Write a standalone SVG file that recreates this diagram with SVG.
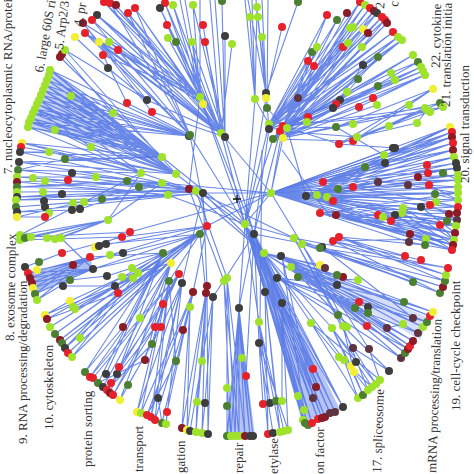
<svg xmlns="http://www.w3.org/2000/svg" width="474" height="474" viewBox="0 0 474 474">
<style>
.e{fill:none;stroke:#5a7be6;stroke-width:1.1;stroke-opacity:0.9}
.band{fill:#5a7be6;fill-opacity:0.45;stroke:none}
.a{fill:#9fe22c}.b{fill:#4d7f33}.c{fill:#e5222b}.d{fill:#8b1b25}.k{fill:#3d3d3d}.f{fill:#f1ef33}.g{fill:#5e3441}
text{font-family:"Liberation Serif","Times New Roman",serif;font-size:13px;fill:#333}
</style>
<rect width="474" height="474" fill="#fff"/>
<g id="connectors">
<polygon class="band" points="239,308 226,436 255,436"/>
<polygon class="band" points="247,226 256,234 340,410 302,422"/>
<polygon class="band" points="50,70 28,127 118,150 108,118" style="fill-opacity:0.35"/>
<polygon class="band" points="28,273 35,294 93,269 90,257" style="fill-opacity:0.5"/>
<polygon class="band" points="281,256 291,267 420,340 430,318" style="fill-opacity:0.25"/>
<path class="e" d="M110 3L200 97M104 2L200 97M116 5L221 133M128 13L200 97M128 13L190 135M135 8L221 133M135 8L203 104M97 15L221 133M97 15L200 97M92 20L190 135M83 23L152 112M85 33L190 135M85 33L200 97M75 37L108 68M99 42L200 97M99 42L221 133M109 42L221 133M103 55L127 103M118 50L190 135M118 50L225 137M108 68L147 100M127 103L190 135M147 100L221 133M152 112L225 137M83 23L147 100M110 3L190 135M104 2L225 137M116 5L203 104M128 13L225 137M97 15L203 104M92 20L221 133M83 23L200 97M85 33L225 137M99 42L190 135M109 42L203 104M103 55L200 97M118 50L203 104M135 8L190 135"/>
<path class="e" d="M60 57L162 157M62 54L113 113M65 50L176 174M65 50L147 100"/>
<path class="e" d="M50 70L162 157M50 70L113 113M49 75L176 174M47 80L162 157M47 80L189 136M45 85L176 174M45 85L162 157M43 90L162 157M43 90L113 113M41 95L176 174M41 95L189 136M39 100L162 157M39 100L141 173M37 104L176 174M37 104L162 157M35 109L162 157M35 109L91 147M33 113L176 174M33 113L189 136M31 118L162 157M31 118L141 173M29 122L176 174M29 122L162 157M28 127L162 157M28 127L141 173M71 96L162 157M55 130L162 157M113 113L189 136M91 147L176 174M50 70L176 174M43 90L176 174M35 109L176 174M49 75L162 157M50 70L150 150M49 75L130 140M47 80L150 150M45 85L130 140M43 90L150 150M41 95L130 140M39 100L150 150M37 104L130 140M35 109L150 150M33 113L130 140M31 118L150 150M29 122L130 140M28 127L150 150M50 70L189 136M45 85L189 136M39 100L189 136M35 109L189 136M29 122L189 136"/>
<path class="e" d="M22 143L162 157M22 143L141 173M21 147L176 174M20 152L162 157M20 152L49 152M19 162L162 157M19 162L189 189M18 170L141 173M18 170L65 159M17 177L189 189M17 177L96 177M17 182L168 195M17 182L68 180M17 187L203 193M17 187L127 181M17 192L196 191M17 192L43 192M17 197L168 195M17 197L62 194M16 200L189 189M16 200L102 199M16 207L168 195M16 207L84 202M17 212L203 193M17 212L72 210M17 217L162 183M17 217L45 217M49 152L141 173M65 159L162 157M72 173L161 184M96 177L162 183M127 181L203 193M139 187L189 189M102 199L168 195M73 203L196 191M80 209L162 183M141 173L189 189M33 178L139 187M45 181L168 195M22 143L176 174M20 152L189 189M19 162L176 174M18 170L196 191M17 187L162 183M17 197L189 189M16 207L203 193"/>
<path class="e" d="M20 235L108 220M20 240L108 220M25 238L108 220M31 237L108 220M47 238L108 220M55 239L108 220M61 238L108 220M20 240L122 237M31 237L130 232M108 220L141 173M108 220L162 183M61 238L93 269M20 235L141 173M22 238L108 220M28 238L108 220"/>
<path class="e" d="M25 267L62 253M28 273L93 269M28 273L90 257M30 278L93 269M30 278L90 257M32 283L93 269M32 283L90 257M33 288L93 269M33 288L90 257M35 294L93 269M35 294L73 265M37 300L70 280M37 300L90 257M39 262L62 253M37 270L123 253M62 253L122 237M73 265L110 255M90 257L163 253M93 269L163 253M93 269L200 234M70 280L107 276M63 286L115 286M95 247L130 232M99 246L207 226M106 244L200 234M110 255L207 226M123 253L200 234M122 237L207 226M130 232L271 193M107 276L132 268M122 277L171 263M132 268L163 253M138 273L200 234"/>
<path class="e" d="M45 315L70 301M45 315L115 286M47 319L118 293M50 327L138 273M50 327L200 234M55 334L133 278M60 340L200 234M60 340L207 226M62 343L200 234M65 348L207 226M65 348L118 293M68 353L200 234M72 357L207 226M72 357L138 273M70 301L122 277M73 307L133 278M75 309L138 273M80 338L118 293M115 286L163 253M118 293L171 263M47 319L200 234M55 334L207 226"/>
<path class="e" d="M85 372L163 253M90 377L171 263M93 378L179 274M98 383L163 253M103 387L171 263M107 390L179 274M110 393L163 253M113 395L155 327M120 400L171 263M85 372L123 327M90 377L140 318M98 383L145 360M107 390L152 344M113 395L179 274M120 400L161 327M106 374L163 253M117 374L171 263M119 367L163 304M111 383L155 327M128 385L152 344M123 327L163 253M140 318L179 274M155 327L179 274M161 327L182 283M145 360L171 263M152 344L163 304"/>
<path class="e" d="M137 412L182 283M141 413L169 281M147 415L193 292M151 417L182 283M155 420L169 281M162 423L193 292M166 424L182 283M137 412L163 304M147 415L176 361M155 420L183 330M162 423L158 398M166 424L167 412M158 398L182 283M167 412L193 292M176 361L169 281M183 330L193 292M163 304L179 274M141 413L193 292M151 417L169 281"/>
<path class="e" d="M182 428L207 286M187 430L206 293M190 431L213 297M196 432L207 286M202 433L206 293M208 434L213 297M182 428L190 307M190 431L202 361M196 432L197 402M202 433L205 403M208 434L207 286M187 430L190 307M197 402L207 286M205 403L213 297M202 361L206 293M190 307L207 226M207 286L203 193M206 293L200 234M213 297L254 234M193 292L207 226M182 283L203 193M169 281L200 234"/>
<path class="e" d="M227 436L239 308M231 436L239 308M235 436L239 308M239 436L239 308M245 436L239 308M250 436L239 308M253 436L239 308M227 436L227 278M231 436L224 281M235 436L227 278M239 436L224 281M245 436L227 278M250 436L242 358M253 436L246 376M227 436L227 406M231 436L227 388M239 308L245 224M239 308L254 234M227 278L196 191M224 281L189 189M242 358L239 308M227 388L227 278M246 376L254 234"/>
<path class="e" d="M268 434L259 322M273 433L259 343M280 432L265 292M284 431L259 322M288 430L282 303M263 404L259 343M270 403L259 322M276 401L265 292M282 401L282 303M268 434L265 292M280 432L259 322M288 430L259 343M259 322L245 224M259 343L254 234M265 292L245 224M282 303L254 234"/>
<path class="e" d="M303 420L245 224M305 423L254 234M308 425L245 224M312 423L254 234M318 419L245 224M322 418L254 234M325 417L245 224M330 413L254 234M335 412L245 224M343 407L254 234M303 420L254 234M308 425L254 234M318 419L254 234M325 417L254 234M335 412L254 234M305 423L245 224M312 423L245 224M322 418L245 224M330 413L245 224M343 407L245 224M304 410L282 256M298 396L264 253M313 369L245 224M316 387L254 234M313 398L282 256M343 407L282 303"/>
<path class="e" d="M358 398L311 323M363 395L332 328M368 390L343 326M372 387L339 357M376 384L332 328M380 380L311 323M389 371L343 326M358 398L344 360M363 395L351 366M368 390L354 372M372 387L356 362M376 384L353 348M380 380L369 349M389 371L353 348M339 357L311 323M344 360L264 253M351 366L332 328M354 372L343 326M356 362L332 328M353 348L294 238M369 349L302 244M311 323L264 253M332 328L264 253M343 326L294 238M347 327L302 244"/>
<path class="e" d="M401 358L281 256M405 353L291 267M408 349L277 278M410 346L281 256M413 341L291 267M418 333L277 278M423 327L281 256M427 322L291 267M430 316L264 253M433 312L281 256M401 358L277 278M405 353L281 256M408 349L291 267M410 346L264 253M413 341L298 277M418 333L281 256M423 327L291 267M427 322L277 278M430 316L281 256M433 312L291 267M404 302L298 277M403 324L387 328M413 318L322 247M387 328L298 277M367 326L281 256M359 302L291 267M368 307L277 278M355 308L264 253M368 313L281 256M338 315L291 267M337 285L277 278M343 277L291 267M337 275L264 253M358 280L298 277M413 282L320 248M404 302L433 312M320 265L264 253M325 268L281 256"/>
<path class="e" d="M440 293L294 238M443 287L302 244M445 281L339 237M446 275L333 241M448 268L294 238M440 293L333 241M443 287L322 247M445 281L302 244M446 275L339 237M448 268L320 248M405 256L339 237M421 260L333 241M413 282L302 244M294 238L245 224M302 244L271 193M322 247L254 234"/>
<path class="e" d="M271 193L450 127M271 193L452 132M271 193L452 137M271 193L453 143M271 193L453 150M271 193L454 157M271 193L456 163M271 193L457 168M271 193L458 175M271 193L458 180M271 193L458 187M271 193L458 193M271 193L458 200M271 193L458 207M271 193L457 213M271 193L457 220M271 193L456 226M271 193L455 233M271 193L454 240M271 193L453 245M271 193L452 250M306 196L450 127M306 196L452 137M306 196L453 150M306 196L456 163M306 196L458 175M306 196L458 187M306 196L458 200M306 196L457 213M306 196L456 226M306 196L454 240M306 196L452 250M306 196L452 132M306 196L453 143M306 196L454 157M306 196L457 168M306 196L458 180M306 196L458 193M306 196L458 207M306 196L457 220M306 196L455 233M306 196L453 245M323 182L452 132M323 182L453 143M323 182L454 157M323 182L457 168M323 182L458 180M323 182L450 127M323 182L452 137M323 182L453 150M320 213L458 193M320 213L458 207M320 213L457 220M320 213L455 233M320 213L453 245M320 213L458 200M320 213L456 226M336 215L457 213M336 215L456 226M336 215L454 240M336 215L452 250M336 215L455 233M336 215L453 245"/>
<path class="e" d="M384 155L452 137M385 163L453 150M365 167L450 127M427 165L454 157M428 173L457 168M418 177L458 175M443 173L458 180M378 182L458 187M408 185L458 193M429 185L458 200M353 187L458 207M338 189L457 213M317 195L457 220M327 197L458 193M333 201L456 226M435 194L458 200M436 202L458 207M430 205L457 220M421 207L455 233M403 208L454 240M402 213L453 245M395 215L452 250M378 215L457 220M383 217L456 226M391 221L455 233M440 225L454 240M449 214L457 220M447 221L456 226M410 234L453 245M409 242L452 250M426 239L454 240M425 245L452 250M271 193L384 155M271 193L365 167M323 182L385 163M306 196L378 182M271 193L408 185M336 215L410 234M320 213L409 242M333 241L426 239M339 237L425 245M271 193L245 224M271 193L162 183M271 193L207 226M271 193L203 193M393 148L271 193"/>
<path class="e" d="M433 89L339 144M440 103L353 141M443 107L336 127M427 110L339 144M430 112L283 126M425 108L353 141M433 89L409 105M440 103L389 126M443 107L353 124M427 110L417 123M409 105L353 141M389 126L339 144M353 124L283 138M417 123L357 137M339 144L283 126M353 141L273 139M336 127L269 129M357 137L280 131M395 148L339 144M384 155L336 127M440 103L283 138M433 89L336 127M443 107L339 144M425 108L283 126"/>
<path class="e" d="M413 55L280 131M418 62L283 138M421 67L307 122M423 71L280 131M425 75L283 138M413 55L340 100M418 62L391 73M421 67L395 80M423 71L336 104M425 75L359 107M391 73L283 126M395 80L308 117M378 57L340 100M363 65L333 108M358 79L287 128M347 92L280 131M373 98L283 138M378 86L307 122M377 105L283 138M359 107L273 139M413 55L287 128M421 67L283 126M425 75L280 131"/>
<path class="e" d="M360 2L269 124M365 5L269 129M370 8L283 126M374 11L269 124M377 13L287 128M382 17L273 139M385 20L269 124M387 23L283 126M393 32L269 129M398 37L287 128M402 40L283 138M360 2L283 126M370 8L269 129M377 13L269 124M385 20L283 138M393 32L269 124M402 40L269 129M365 5L273 139M398 37L280 131M350 28L269 124M353 27L283 126M363 29L269 129M368 33L280 131M343 47L269 124M348 43L287 128M362 47L273 139M327 15L269 124M337 20L269 129M347 13L283 126M312 52L269 124M317 47L283 126M308 61L269 129M314 66L280 131M298 98L269 124M308 117L269 129M307 122L269 124M298 2L266 93M282 27L266 98M340 100L283 126M336 104L269 129M333 108L273 139M269 124L245 224M269 129L254 234M283 126L271 193M273 139L245 224M287 128L306 196M283 138L271 193M280 131L254 234M365 5L280 131M374 11L283 138M382 17L269 129M387 23L273 139M398 37L269 124M402 40L273 139M360 2L287 128M327 15L283 126M337 20L280 131"/>
<path class="e" d="M257 7L255 99M250 17L255 99M258 17L266 93M262 37L266 98M252 0L255 99M262 0L266 93M245 0L255 99M268 0L267 108M255 99L269 124M266 93L269 129M266 98L245 224M267 108L283 126M255 99L245 224M256 0L266 98M248 0L266 93"/>
<path class="e" d="M165 3L200 97M160 8L203 104M173 5L221 133M193 5L200 97M222 1L225 137M167 25L203 104M168 38L200 97M176 42L221 133M203 25L221 133M205 42L225 137M192 42L200 97M225 36L225 137M232 44L221 133M165 3L221 133M173 5L203 104M193 5L225 137M210 0L221 133M215 0L225 137M180 0L200 97M200 97L245 224M203 104L254 234M221 133L245 224M225 137L254 234M190 135L245 224M190 135L207 226M221 133L271 193M200 97L189 189M160 8L221 133M167 25L225 137M168 38L221 133M192 42L225 137M185 0L203 104M200 0L200 97"/>
<path class="e" d="M162 157L245 224M176 174L254 234M203 193L264 253M196 191L294 238M189 189L264 253M168 195L245 224M262 150L260 322M282 150L330 217"/>
</g>
<g id="n-cluster4">
<circle class="c" cx="110" cy="3" r="4"/><circle class="d" cx="116" cy="5" r="4"/><circle class="c" cx="104" cy="2" r="4"/><circle class="c" cx="128" cy="13" r="4"/><circle class="c" cx="135" cy="8" r="4"/><circle class="k" cx="97" cy="15" r="4"/><circle class="c" cx="92" cy="20" r="4"/><circle class="d" cx="83" cy="23" r="4"/><circle class="c" cx="85" cy="33" r="4"/><circle class="f" cx="75" cy="37" r="4"/><circle class="f" cx="99" cy="42" r="4"/><circle class="a" cx="109" cy="42" r="4"/><circle class="c" cx="103" cy="55" r="4"/><circle class="c" cx="118" cy="50" r="4"/><circle class="k" cx="108" cy="68" r="4"/><circle class="c" cx="127" cy="103" r="4"/><circle class="k" cx="147" cy="100" r="4"/><circle class="c" cx="152" cy="112" r="4"/>
</g>
<g id="n-cluster5">
<circle class="d" cx="60" cy="57" r="4"/><circle class="d" cx="62" cy="54" r="4"/><circle class="a" cx="65" cy="50" r="4"/>
</g>
<g id="n-cluster6">
<circle class="a" cx="50" cy="70" r="4"/><circle class="a" cx="49" cy="75" r="4"/><circle class="a" cx="47" cy="80" r="4"/><circle class="a" cx="45" cy="85" r="4"/><circle class="a" cx="43" cy="90" r="4"/><circle class="a" cx="41" cy="95" r="4"/><circle class="a" cx="39" cy="100" r="4"/><circle class="a" cx="37" cy="104" r="4"/><circle class="a" cx="35" cy="109" r="4"/><circle class="a" cx="33" cy="113" r="4"/><circle class="a" cx="31" cy="118" r="4"/><circle class="a" cx="29" cy="122" r="4"/><circle class="a" cx="28" cy="127" r="4"/><circle class="a" cx="71" cy="96" r="4"/><circle class="a" cx="113" cy="113" r="4"/><circle class="a" cx="55" cy="130" r="4"/><circle class="a" cx="91" cy="147" r="4"/><circle class="k" cx="189" cy="136" r="4"/>
</g>
<g id="n-cluster7">
<circle class="f" cx="22" cy="143" r="4"/><circle class="c" cx="21" cy="147" r="4"/><circle class="k" cx="20" cy="152" r="4"/><circle class="k" cx="19" cy="162" r="4"/><circle class="b" cx="18" cy="170" r="4"/><circle class="a" cx="17" cy="177" r="4"/><circle class="d" cx="17" cy="182" r="4"/><circle class="b" cx="17" cy="187" r="4"/><circle class="a" cx="17" cy="192" r="4"/><circle class="k" cx="17" cy="197" r="4"/><circle class="a" cx="16" cy="200" r="4"/><circle class="b" cx="16" cy="207" r="4"/><circle class="k" cx="17" cy="212" r="4"/><circle class="f" cx="17" cy="217" r="4"/>
<circle class="a" cx="49" cy="152" r="4"/><circle class="b" cx="65" cy="159" r="4"/><circle class="k" cx="72" cy="173" r="4"/><circle class="a" cx="33" cy="178" r="4"/><circle class="a" cx="45" cy="181" r="4"/><circle class="c" cx="68" cy="180" r="4"/><circle class="a" cx="96" cy="177" r="4"/><circle class="a" cx="141" cy="173" r="4"/><circle class="b" cx="127" cy="181" r="4"/><circle class="b" cx="139" cy="187" r="4"/><circle class="a" cx="43" cy="192" r="4"/><circle class="k" cx="62" cy="194" r="4"/><circle class="k" cx="44" cy="201" r="4"/><circle class="a" cx="73" cy="203" r="4"/><circle class="a" cx="84" cy="202" r="4"/><circle class="b" cx="102" cy="199" r="4"/><circle class="k" cx="45" cy="207" r="4"/><circle class="a" cx="49" cy="213" r="4"/><circle class="k" cx="72" cy="210" r="4"/><circle class="k" cx="80" cy="209" r="4"/><circle class="c" cx="45" cy="217" r="4"/>
</g>
<g id="n-cluster8">
<circle class="a" cx="20" cy="235" r="4"/><circle class="a" cx="20" cy="240" r="4"/><circle class="b" cx="25" cy="238" r="4"/><circle class="a" cx="31" cy="237" r="4"/><circle class="a" cx="47" cy="238" r="4"/><circle class="a" cx="55" cy="239" r="4"/><circle class="a" cx="61" cy="238" r="4"/><circle class="a" cx="108" cy="220" r="4"/>
</g>
<g id="n-cluster9">
<circle class="k" cx="25" cy="267" r="4"/><circle class="c" cx="28" cy="273" r="4"/><circle class="d" cx="30" cy="278" r="4"/><circle class="d" cx="32" cy="283" r="4"/><circle class="f" cx="33" cy="288" r="4"/><circle class="b" cx="35" cy="294" r="4"/><circle class="a" cx="37" cy="300" r="4"/><circle class="b" cx="39" cy="262" r="4"/><circle class="f" cx="37" cy="270" r="4"/><circle class="c" cx="62" cy="253" r="4"/><circle class="d" cx="73" cy="265" r="4"/><circle class="c" cx="90" cy="257" r="4"/><circle class="k" cx="93" cy="269" r="4"/><circle class="b" cx="70" cy="280" r="4"/><circle class="k" cx="63" cy="286" r="4"/><circle class="f" cx="95" cy="247" r="4"/><circle class="k" cx="99" cy="246" r="4"/><circle class="k" cx="106" cy="244" r="4"/><circle class="a" cx="110" cy="255" r="4"/><circle class="k" cx="123" cy="253" r="4"/><circle class="c" cx="122" cy="237" r="4"/><circle class="c" cx="130" cy="232" r="4"/><circle class="k" cx="107" cy="276" r="4"/><circle class="k" cx="115" cy="286" r="4"/><circle class="c" cx="118" cy="293" r="4"/><circle class="a" cx="122" cy="277" r="4"/><circle class="a" cx="132" cy="268" r="4"/><circle class="a" cx="138" cy="273" r="4"/><circle class="a" cx="133" cy="278" r="4"/>
</g>
<g id="n-cluster10">
<circle class="f" cx="45" cy="315" r="4"/><circle class="d" cx="47" cy="319" r="4"/><circle class="a" cx="50" cy="327" r="4"/><circle class="b" cx="55" cy="334" r="4"/><circle class="d" cx="60" cy="340" r="4"/><circle class="b" cx="62" cy="343" r="4"/><circle class="k" cx="65" cy="348" r="4"/><circle class="c" cx="68" cy="353" r="4"/><circle class="a" cx="72" cy="357" r="4"/><circle class="f" cx="70" cy="301" r="4"/><circle class="a" cx="73" cy="307" r="4"/><circle class="a" cx="75" cy="309" r="4"/><circle class="a" cx="80" cy="338" r="4"/>
</g>
<g id="n-cluster11">
<circle class="b" cx="85" cy="372" r="4"/><circle class="c" cx="90" cy="377" r="4"/><circle class="c" cx="93" cy="378" r="4"/><circle class="b" cx="98" cy="383" r="4"/><circle class="k" cx="103" cy="387" r="4"/><circle class="c" cx="107" cy="390" r="4"/><circle class="d" cx="110" cy="393" r="4"/><circle class="c" cx="113" cy="395" r="4"/><circle class="f" cx="120" cy="400" r="4"/><circle class="k" cx="106" cy="374" r="4"/><circle class="k" cx="117" cy="374" r="4"/><circle class="c" cx="119" cy="367" r="4"/><circle class="c" cx="111" cy="383" r="4"/><circle class="b" cx="128" cy="385" r="4"/><circle class="d" cx="123" cy="327" r="4"/><circle class="a" cx="140" cy="318" r="4"/><circle class="c" cx="155" cy="327" r="4"/><circle class="c" cx="161" cy="327" r="4"/><circle class="d" cx="145" cy="360" r="4"/><circle class="b" cx="152" cy="344" r="4"/>
</g>
<g id="n-transport">
<circle class="f" cx="137" cy="412" r="4"/><circle class="a" cx="141" cy="413" r="4"/><circle class="c" cx="147" cy="415" r="4"/><circle class="c" cx="151" cy="417" r="4"/><circle class="c" cx="155" cy="420" r="4"/><circle class="b" cx="162" cy="423" r="4"/><circle class="a" cx="166" cy="424" r="4"/><circle class="k" cx="158" cy="398" r="4"/><circle class="c" cx="167" cy="412" r="4"/><circle class="b" cx="176" cy="361" r="4"/><circle class="d" cx="183" cy="330" r="4"/><circle class="c" cx="163" cy="304" r="4"/>
</g>
<g id="n-gation">
<circle class="d" cx="182" cy="428" r="4"/><circle class="f" cx="187" cy="430" r="4"/><circle class="k" cx="190" cy="431" r="4"/><circle class="a" cx="196" cy="432" r="4"/><circle class="a" cx="202" cy="433" r="4"/><circle class="k" cx="208" cy="434" r="4"/><circle class="a" cx="197" cy="402" r="4"/><circle class="k" cx="205" cy="403" r="4"/><circle class="a" cx="202" cy="361" r="4"/><circle class="a" cx="190" cy="307" r="4"/>
</g>
<g id="n-repair">
<circle class="b" cx="227" cy="436" r="4"/><circle class="a" cx="231" cy="436" r="4"/><circle class="a" cx="235" cy="436" r="4"/><circle class="a" cx="239" cy="436" r="4"/><circle class="d" cx="245" cy="436" r="4"/><circle class="k" cx="250" cy="436" r="4"/><circle class="k" cx="253" cy="436" r="4"/><circle class="a" cx="227" cy="388" r="4"/><circle class="b" cx="227" cy="406" r="4"/><circle class="a" cx="242" cy="358" r="4"/><circle class="c" cx="246" cy="376" r="4"/>
</g>
<g id="n-etylase">
<circle class="c" cx="268" cy="434" r="4"/><circle class="k" cx="273" cy="433" r="4"/><circle class="a" cx="280" cy="432" r="4"/><circle class="a" cx="284" cy="431" r="4"/><circle class="a" cx="288" cy="430" r="4"/><circle class="c" cx="263" cy="404" r="4"/><circle class="k" cx="270" cy="403" r="4"/><circle class="b" cx="276" cy="401" r="4"/><circle class="a" cx="282" cy="401" r="4"/><circle class="a" cx="259" cy="322" r="4"/><circle class="k" cx="259" cy="343" r="4"/>
</g>
<g id="n-factor">
<circle class="a" cx="303" cy="420" r="4"/><circle class="b" cx="305" cy="423" r="4"/><circle class="b" cx="308" cy="425" r="4"/><circle class="c" cx="312" cy="423" r="4"/><circle class="c" cx="318" cy="419" r="4"/><circle class="d" cx="322" cy="418" r="4"/><circle class="d" cx="325" cy="417" r="4"/><circle class="g" cx="330" cy="413" r="4"/><circle class="g" cx="335" cy="412" r="4"/><circle class="k" cx="343" cy="407" r="4"/><circle class="a" cx="304" cy="410" r="4"/><circle class="a" cx="298" cy="396" r="4"/><circle class="c" cx="313" cy="369" r="4"/><circle class="d" cx="316" cy="387" r="4"/><circle class="g" cx="313" cy="398" r="4"/>
</g>
<g id="n-spliceosome">
<circle class="a" cx="358" cy="398" r="4"/><circle class="b" cx="363" cy="395" r="4"/><circle class="a" cx="368" cy="390" r="4"/><circle class="a" cx="372" cy="387" r="4"/><circle class="a" cx="376" cy="384" r="4"/><circle class="a" cx="380" cy="380" r="4"/><circle class="k" cx="389" cy="371" r="4"/><circle class="a" cx="339" cy="357" r="4"/><circle class="a" cx="344" cy="360" r="4"/><circle class="f" cx="351" cy="366" r="4"/><circle class="f" cx="354" cy="372" r="4"/><circle class="k" cx="356" cy="362" r="4"/><circle class="g" cx="353" cy="348" r="4"/><circle class="g" cx="369" cy="349" r="4"/><circle class="a" cx="311" cy="323" r="4"/><circle class="a" cx="332" cy="328" r="4"/><circle class="a" cx="343" cy="326" r="4"/><circle class="a" cx="347" cy="327" r="4"/>
</g>
<g id="n-mrna">
<circle class="g" cx="401" cy="358" r="4"/><circle class="b" cx="405" cy="353" r="4"/><circle class="d" cx="408" cy="349" r="4"/><circle class="c" cx="410" cy="346" r="4"/><circle class="d" cx="413" cy="341" r="4"/><circle class="g" cx="418" cy="333" r="4"/><circle class="a" cx="423" cy="327" r="4"/><circle class="b" cx="427" cy="322" r="4"/><circle class="c" cx="430" cy="316" r="4"/><circle class="f" cx="433" cy="312" r="4"/><circle class="b" cx="404" cy="302" r="4"/><circle class="a" cx="403" cy="324" r="4"/><circle class="g" cx="413" cy="318" r="4"/><circle class="g" cx="387" cy="328" r="4"/><circle class="c" cx="367" cy="326" r="4"/><circle class="c" cx="359" cy="302" r="4"/><circle class="k" cx="368" cy="307" r="4"/><circle class="b" cx="355" cy="308" r="4"/><circle class="b" cx="368" cy="313" r="4"/><circle class="b" cx="338" cy="315" r="4"/><circle class="k" cx="337" cy="285" r="4"/><circle class="d" cx="343" cy="277" r="4"/><circle class="b" cx="337" cy="275" r="4"/><circle class="a" cx="358" cy="280" r="4"/><circle class="b" cx="413" cy="282" r="4"/><circle class="f" cx="320" cy="265" r="4"/><circle class="g" cx="325" cy="268" r="4"/>
</g>
<g id="n-cellcycle">
<circle class="b" cx="440" cy="293" r="4"/><circle class="d" cx="443" cy="287" r="4"/><circle class="b" cx="445" cy="281" r="4"/><circle class="a" cx="446" cy="275" r="4"/><circle class="c" cx="448" cy="268" r="4"/><circle class="c" cx="405" cy="256" r="4"/><circle class="c" cx="421" cy="260" r="4"/>
</g>
<g id="n-signal">
<circle class="f" cx="450" cy="127" r="4"/><circle class="c" cx="452" cy="132" r="4"/><circle class="d" cx="452" cy="137" r="4"/><circle class="c" cx="453" cy="143" r="4"/><circle class="d" cx="453" cy="150" r="4"/><circle class="a" cx="454" cy="157" r="4"/><circle class="k" cx="456" cy="163" r="4"/><circle class="k" cx="457" cy="168" r="4"/><circle class="a" cx="458" cy="175" r="4"/><circle class="a" cx="458" cy="180" r="4"/><circle class="a" cx="458" cy="187" r="4"/><circle class="a" cx="458" cy="193" r="4"/><circle class="a" cx="458" cy="200" r="4"/><circle class="c" cx="458" cy="207" r="4"/><circle class="d" cx="457" cy="213" r="4"/><circle class="g" cx="457" cy="220" r="4"/><circle class="a" cx="456" cy="226" r="4"/><circle class="d" cx="455" cy="233" r="4"/><circle class="a" cx="454" cy="240" r="4"/><circle class="d" cx="453" cy="245" r="4"/><circle class="c" cx="452" cy="250" r="4"/>
<circle class="a" cx="384" cy="155" r="4"/><circle class="k" cx="385" cy="163" r="4"/><circle class="b" cx="365" cy="167" r="4"/><circle class="c" cx="427" cy="165" r="4"/><circle class="c" cx="428" cy="173" r="4"/><circle class="d" cx="418" cy="177" r="4"/><circle class="b" cx="443" cy="173" r="4"/><circle class="g" cx="378" cy="182" r="4"/><circle class="g" cx="408" cy="185" r="4"/><circle class="c" cx="429" cy="185" r="4"/><circle class="c" cx="353" cy="187" r="4"/><circle class="b" cx="338" cy="189" r="4"/><circle class="a" cx="317" cy="195" r="4"/><circle class="a" cx="327" cy="197" r="4"/><circle class="c" cx="333" cy="201" r="4"/><circle class="b" cx="435" cy="194" r="4"/><circle class="a" cx="436" cy="202" r="4"/><circle class="c" cx="430" cy="205" r="4"/><circle class="k" cx="421" cy="207" r="4"/><circle class="a" cx="403" cy="208" r="4"/><circle class="a" cx="402" cy="213" r="4"/><circle class="k" cx="395" cy="215" r="4"/><circle class="c" cx="378" cy="215" r="4"/><circle class="a" cx="383" cy="217" r="4"/><circle class="c" cx="391" cy="221" r="4"/><circle class="c" cx="440" cy="225" r="4"/><circle class="d" cx="449" cy="214" r="4"/><circle class="b" cx="447" cy="221" r="4"/><circle class="d" cx="410" cy="234" r="4"/><circle class="g" cx="409" cy="242" r="4"/><circle class="a" cx="426" cy="239" r="4"/><circle class="b" cx="425" cy="245" r="4"/><circle class="k" cx="393" cy="148" r="4"/>
</g>
<g id="n-translation">
<circle class="f" cx="433" cy="89" r="4"/><circle class="b" cx="440" cy="103" r="4"/><circle class="a" cx="443" cy="107" r="4"/><circle class="a" cx="427" cy="110" r="4"/><circle class="a" cx="430" cy="112" r="4"/><circle class="a" cx="425" cy="108" r="4"/><circle class="a" cx="409" cy="105" r="4"/><circle class="a" cx="389" cy="126" r="4"/><circle class="a" cx="353" cy="124" r="4"/><circle class="a" cx="417" cy="123" r="4"/><circle class="c" cx="339" cy="144" r="4"/><circle class="c" cx="353" cy="141" r="4"/><circle class="a" cx="357" cy="137" r="4"/><circle class="k" cx="395" cy="148" r="4"/><circle class="b" cx="336" cy="127" r="4"/>
</g>
<g id="n-cytokine">
<circle class="a" cx="413" cy="55" r="4"/><circle class="b" cx="418" cy="62" r="4"/><circle class="a" cx="421" cy="67" r="4"/><circle class="a" cx="423" cy="71" r="4"/><circle class="a" cx="425" cy="75" r="4"/><circle class="a" cx="391" cy="73" r="4"/><circle class="a" cx="395" cy="80" r="4"/><circle class="b" cx="378" cy="57" r="4"/><circle class="k" cx="363" cy="65" r="4"/><circle class="b" cx="358" cy="79" r="4"/><circle class="a" cx="347" cy="92" r="4"/><circle class="c" cx="373" cy="98" r="4"/><circle class="b" cx="378" cy="86" r="4"/><circle class="a" cx="377" cy="105" r="4"/><circle class="c" cx="359" cy="107" r="4"/>
</g>
<g id="n-topright">
<circle class="c" cx="360" cy="2" r="4"/><circle class="a" cx="365" cy="5" r="4"/><circle class="c" cx="370" cy="8" r="4"/><circle class="d" cx="374" cy="11" r="4"/><circle class="k" cx="377" cy="13" r="4"/><circle class="c" cx="382" cy="17" r="4"/><circle class="c" cx="385" cy="20" r="4"/><circle class="d" cx="387" cy="23" r="4"/><circle class="c" cx="393" cy="32" r="4"/><circle class="a" cx="398" cy="37" r="4"/><circle class="a" cx="402" cy="40" r="4"/><circle class="a" cx="350" cy="28" r="4"/><circle class="a" cx="353" cy="27" r="4"/><circle class="f" cx="363" cy="29" r="4"/><circle class="d" cx="368" cy="33" r="4"/><circle class="c" cx="343" cy="47" r="4"/><circle class="a" cx="348" cy="43" r="4"/><circle class="a" cx="362" cy="47" r="4"/><circle class="c" cx="327" cy="15" r="4"/><circle class="b" cx="337" cy="20" r="4"/><circle class="d" cx="347" cy="13" r="4"/><circle class="b" cx="312" cy="52" r="4"/><circle class="a" cx="317" cy="47" r="4"/><circle class="c" cx="308" cy="61" r="4"/><circle class="c" cx="314" cy="66" r="4"/><circle class="k" cx="340" cy="100" r="4"/><circle class="c" cx="336" cy="104" r="4"/><circle class="k" cx="333" cy="108" r="4"/><circle class="g" cx="298" cy="98" r="4"/><circle class="c" cx="308" cy="117" r="4"/><circle class="a" cx="307" cy="122" r="4"/><circle class="b" cx="298" cy="2" r="4"/><circle class="c" cx="282" cy="27" r="4"/>
</g>
<g id="n-topcenter">
<circle class="a" cx="257" cy="7" r="4"/><circle class="a" cx="250" cy="17" r="4"/><circle class="a" cx="258" cy="17" r="4"/><circle class="a" cx="262" cy="37" r="4"/><circle class="a" cx="255" cy="99" r="4"/><circle class="k" cx="266" cy="93" r="4"/><circle class="f" cx="266" cy="98" r="4"/><circle class="b" cx="267" cy="108" r="4"/>
</g>
<g id="n-topleft">
<circle class="c" cx="165" cy="3" r="4"/><circle class="k" cx="160" cy="8" r="4"/><circle class="a" cx="173" cy="5" r="4"/><circle class="a" cx="193" cy="5" r="4"/><circle class="b" cx="222" cy="1" r="4"/><circle class="c" cx="167" cy="25" r="4"/><circle class="a" cx="168" cy="38" r="4"/><circle class="b" cx="176" cy="42" r="4"/><circle class="c" cx="203" cy="25" r="4"/><circle class="c" cx="205" cy="42" r="4"/><circle class="a" cx="192" cy="42" r="4"/><circle class="k" cx="225" cy="36" r="4"/><circle class="a" cx="232" cy="44" r="4"/><circle class="a" cx="200" cy="97" r="4"/><circle class="f" cx="203" cy="104" r="4"/><circle class="a" cx="221" cy="133" r="4"/><circle class="k" cx="225" cy="137" r="4"/><circle class="b" cx="190" cy="135" r="4"/>
</g>
<g id="n-hubs">
<circle class="a" cx="245" cy="224" r="4"/><circle class="k" cx="254" cy="234" r="4"/><circle class="a" cx="271" cy="193" r="4"/><circle class="c" cx="207" cy="226" r="4"/><circle class="b" cx="200" cy="234" r="4"/><circle class="d" cx="189" cy="189" r="4"/><circle class="a" cx="196" cy="191" r="4"/><circle class="k" cx="203" cy="193" r="4"/><circle class="a" cx="168" cy="195" r="4"/><circle class="a" cx="162" cy="183" r="4"/><circle class="a" cx="176" cy="174" r="4"/><circle class="a" cx="162" cy="157" r="4"/><circle class="k" cx="306" cy="196" r="4"/><circle class="c" cx="323" cy="182" r="4"/><circle class="c" cx="320" cy="213" r="4"/><circle class="d" cx="336" cy="215" r="4"/><circle class="a" cx="264" cy="253" r="4"/><circle class="k" cx="281" cy="256" r="4"/><circle class="a" cx="291" cy="267" r="4"/><circle class="b" cx="298" cy="277" r="4"/><circle class="k" cx="277" cy="278" r="4"/><circle class="k" cx="265" cy="292" r="4"/><circle class="k" cx="282" cy="303" r="4"/><circle class="a" cx="227" cy="278" r="4"/><circle class="a" cx="224" cy="281" r="4"/><circle class="k" cx="239" cy="308" r="4"/><circle class="a" cx="294" cy="238" r="4"/><circle class="a" cx="302" cy="244" r="4"/><circle class="c" cx="339" cy="237" r="4"/><circle class="c" cx="333" cy="241" r="4"/><circle class="k" cx="322" cy="247" r="4"/><circle class="b" cx="320" cy="248" r="4"/><circle class="a" cx="269" cy="124" r="4"/><circle class="k" cx="269" cy="129" r="4"/><circle class="c" cx="283" cy="126" r="4"/><circle class="c" cx="280" cy="131" r="4"/><circle class="a" cx="287" cy="128" r="4"/><circle class="b" cx="273" cy="139" r="4"/><circle class="f" cx="283" cy="138" r="4"/><circle class="b" cx="163" cy="253" r="4"/><circle class="f" cx="171" cy="263" r="4"/><circle class="c" cx="179" cy="274" r="4"/><circle class="b" cx="169" cy="281" r="4"/><circle class="k" cx="182" cy="283" r="4"/><circle class="d" cx="193" cy="292" r="4"/><circle class="d" cx="207" cy="286" r="4"/><circle class="d" cx="206" cy="293" r="4"/><circle class="k" cx="213" cy="297" r="4"/>
</g>
<path id="centre-mark" d="M233 199H241M237 195V203" stroke="#111" stroke-width="1.3" fill="none"/>
<g id="labels">
<text transform="translate(82,27) rotate(-80)">4. pr</text>
<text transform="translate(63,50) rotate(-83)">5. Arp2/3</text>
<text transform="translate(43,73) rotate(-80)">6. large 60S ri</text>
<text transform="translate(12,174) rotate(-90)">7. nucleocytoplasmic RNA/protei</text>
<text transform="translate(14,341) rotate(-89)">8. exosome complex</text>
<text transform="translate(27,444) rotate(-90)">9. RNA processing/degradation</text>
<text transform="translate(53,430) rotate(-90)">10. cytoskeleton</text>
<text transform="translate(92,467) rotate(-90)">protein sorting</text>
<text transform="translate(143,472) rotate(-90)">transport</text>
<text transform="translate(185,473) rotate(-90)">gation</text>
<text transform="translate(243,473) rotate(-90)">repair</text>
<text transform="translate(278,474) rotate(-90)">etylase</text>
<text transform="translate(324,474) rotate(-90)">on factor</text>
<text transform="translate(381,473) rotate(-88)">17. spliceosome</text>
<text transform="translate(436,473) rotate(-88)">mRNA processing/translation</text>
<text transform="translate(460,411) rotate(-90)">19. cell-cycle checkpoint</text>
<text transform="translate(469,183) rotate(-90)">20. signal transduction</text>
<text transform="translate(450,107) rotate(-89)">21. translation initia</text>
<text transform="translate(440,68) rotate(-89)">22. cytokine</text>
<text transform="translate(384,9) rotate(-85)">2</text>
<text transform="translate(398,7) rotate(-85)">c</text>
</g>
</svg>
